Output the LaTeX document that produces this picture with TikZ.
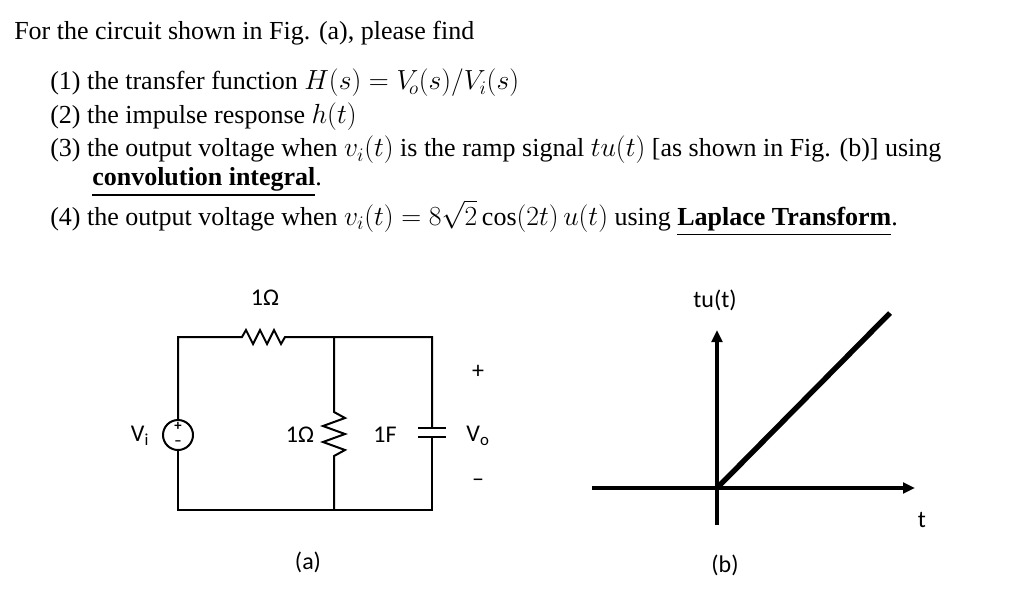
\documentclass[tikz,border=0pt]{standalone}
\usepackage{fontspec}
\usepackage{amsmath}
\setmainfont{Liberation Serif}
\newfontfamily\carfont{Carlito}
\usetikzlibrary{arrows.meta}
\begin{document}
\begin{tikzpicture}[x=0.75pt,y=-0.75pt,
  txt/.style={anchor=west,inner sep=0pt,font=\fontsize{19.5}{22}\selectfont},
  lab/.style={inner sep=0pt,font=\carfont\fontsize{18}{20}\selectfont},
  wire/.style={line width=1.5pt}]
\useasboundingbox (0,0) rectangle (1024,601);
\node[txt] (t0) at (14,33) {For the circuit shown in Fig. (a), please find};
\node[txt] (t1) at (50,83) {(1) the transfer function $H(s)=V_{\!o}(s)/V_i(s)$};
\node[txt] (t2) at (50,117) {(2) the impulse response $h(t)$};
\node[txt] (t3) at (50,150) {(3) the output voltage when $v_i(t)$ is the ramp signal $tu(t)$ [as shown in Fig. (b)] using};
\node[txt] (t3b) at (92,182) {\underline{\textbf{convolution integral}}.};
\node[txt] (t4) at (50,218) {(4) the output voltage when $v_i(t)=8\sqrt{2}\cos(2t)\,u(t)$ using \underline{\textbf{Laplace Transform}}.};
% circuit
\coordinate (tl) at (178,337); \coordinate (bl) at (178,510);
\coordinate (tm) at (334,337); \coordinate (bm) at (334,510);
\coordinate (tr) at (432,337); \coordinate (br) at (432,510);
\node[draw,circle,line width=1.5pt,minimum size=30pt*0.75,inner sep=0pt] (src) at (178,435) {};
\node[lab,font=\carfont\bfseries\fontsize{11}{11}\selectfont] (sp) at (178,426) {+};
\node[lab,font=\carfont\bfseries\fontsize{11}{11}\selectfont] (sm) at (178,443) {–};
\draw[wire] (src.north) -- (tl) -- (242,337) -- (246,330) -- (253,344) -- (260,330) -- (267,344) -- (274,330) -- (281,344) -- (285,337) -- (tm) -- (tr) -- (432,428);
\draw[wire] (418,428) -- (446,428) (418,437) -- (446,437);
\draw[wire] (432,437) -- (br) -- (bm) -- (bl) -- (src.south);
\draw[wire] (tm) -- (334,412) -- (345,418) -- (323,426) -- (345,434) -- (323,442) -- (345,450) -- (334,456) -- (bm);
\node[lab] (r1) at (265,298) {1Ω};
\node[lab] (r2) at (300,435) {1Ω};
\node[lab] (c1) at (385,435) {1F};
\node[lab] (vp) at (478,372) {+};
\node[lab] (vo) at (478,436) {V\textsubscript{o}};
\node[lab] (vm) at (478,483) {–};
\node[lab] (vi) at (140,436) {V\textsubscript{i}};
\node[lab] (fa) at (308,562) {(a)};
% graph
\coordinate (o) at (717,488);
\draw[line width=2.4pt,-{Triangle[length=9pt,width=8pt]}] (717,525) -- (717,330);
\draw[line width=2.4pt,-{Triangle[length=9pt,width=8pt]}] (592,488) -- (915,488);
\draw[line width=4pt] (o) -- (890,313);
\node[lab] (tu) at (715,300) {tu(t)};
\node[lab] (tt) at (922,520) {t};
\node[lab] (fb) at (725,565) {(b)};
\end{tikzpicture}
\end{document}
